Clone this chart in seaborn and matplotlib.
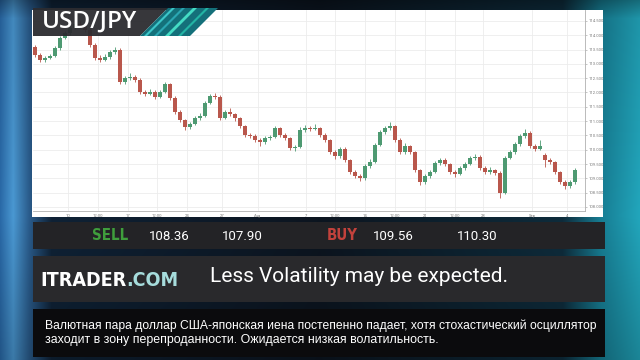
import numpy as np
import matplotlib
matplotlib.use("Agg")
import matplotlib.pyplot as plt
from matplotlib.patches import Rectangle, Polygon
import seaborn as sns

# USD/JPY 4h candles
pair = "USD/JPY"
opens = [113.59, 113.31, 113.14, 113.21, 113.28, 113.56, 113.91, 114.08, 114.26, 114.40,
         114.33, 114.19, 113.66, 113.21, 113.14, 113.24, 113.42, 113.49, 112.37, 112.51,
         112.54, 112.44, 112.02, 111.95, 112.02, 111.84, 112.02, 112.30, 111.81, 111.32,
         111.04, 110.80, 110.90, 111.11, 111.18, 111.63, 111.88, 111.84, 111.11, 111.32,
         111.25, 111.11, 110.83, 110.52, 110.48, 110.34, 110.27, 110.41, 110.45, 110.76,
         110.52, 110.41, 110.06, 110.10, 110.69, 110.76, 110.73, 110.76, 110.52, 110.34,
         109.92, 109.78, 110.03, 109.64, 109.22, 109.08, 109.01, 109.43, 109.57, 110.17,
         110.62, 110.76, 110.83, 110.34, 109.92, 110.13, 109.92, 109.29, 108.87, 109.08,
         109.22, 109.54, 109.64, 109.50, 109.22, 109.15, 109.36, 109.50, 109.71, 109.75,
         109.36, 109.22, 109.29, 109.19, 108.49, 109.71, 109.92, 110.20, 110.48, 110.59,
         110.13, 110.03, 109.82, 109.64, 109.57, 109.22, 108.87, 108.73, 108.87]
closes = [113.31, 113.14, 113.21, 113.28, 113.56, 113.91, 114.08, 114.26, 114.40, 114.33,
          114.19, 113.66, 113.21, 113.14, 113.24, 113.42, 113.49, 112.37, 112.51, 112.54,
          112.44, 112.02, 111.95, 112.02, 111.84, 112.02, 112.30, 111.81, 111.32, 111.04,
          110.80, 110.90, 111.11, 111.18, 111.63, 111.88, 111.84, 111.11, 111.32, 111.25,
          111.11, 110.83, 110.52, 110.48, 110.34, 110.27, 110.41, 110.45, 110.76, 110.52,
          110.41, 110.06, 110.10, 110.69, 110.76, 110.73, 110.76, 110.52, 110.34, 109.92,
          109.78, 110.03, 109.64, 109.22, 109.08, 109.01, 109.43, 109.57, 110.17, 110.62,
          110.76, 110.83, 110.34, 109.92, 110.13, 109.92, 109.29, 108.87, 109.08, 109.22,
          109.54, 109.64, 109.50, 109.22, 109.15, 109.36, 109.50, 109.71, 109.75, 109.36,
          109.22, 109.29, 109.19, 108.49, 109.71, 109.92, 110.20, 110.48, 110.59, 110.13,
          110.03, 110.13, 109.64, 109.57, 109.22, 108.87, 108.73, 108.87, 109.29]
highs = [113.66, 113.38, 113.28, 113.35, 113.62, 113.98, 114.15, 114.32, 114.47, 114.49,
         114.38, 114.24, 113.72, 113.30, 113.33, 113.50, 113.58, 113.54, 112.58, 112.68,
         112.60, 112.50, 112.10, 112.12, 112.08, 112.10, 112.38, 112.34, 111.86, 111.38,
         111.08, 110.98, 111.18, 111.30, 111.70, 111.95, 111.98, 111.90, 111.40, 111.45,
         111.30, 111.16, 110.88, 110.60, 110.55, 110.40, 110.48, 110.50, 110.84, 110.80,
         110.58, 110.46, 110.16, 110.78, 110.85, 110.82, 110.90, 110.80, 110.57, 110.38,
         110.00, 110.10, 110.08, 109.68, 109.28, 109.14, 109.50, 109.66, 110.24, 110.70,
         110.84, 110.98, 110.88, 110.40, 110.22, 110.18, 109.97, 109.34, 109.15, 109.30,
         109.62, 109.72, 109.70, 109.55, 109.28, 109.44, 109.58, 109.79, 109.86, 109.80,
         109.42, 109.38, 109.34, 109.24, 109.78, 110.00, 110.28, 110.56, 110.72, 110.64,
         110.20, 110.34, 109.88, 109.72, 109.62, 109.27, 108.93, 108.95, 109.36]
lows = [113.24, 113.07, 113.08, 113.17, 113.24, 113.50, 113.86, 114.02, 114.20, 114.25,
        114.12, 113.60, 113.15, 113.05, 113.09, 113.18, 113.36, 112.30, 112.31, 112.45,
        112.36, 111.95, 111.86, 111.90, 111.76, 111.79, 111.97, 111.74, 111.25, 110.97,
        110.70, 110.74, 110.85, 111.05, 111.14, 111.58, 111.78, 111.04, 111.06, 111.18,
        111.02, 110.76, 110.45, 110.40, 110.26, 110.12, 110.20, 110.33, 110.40, 110.45,
        110.34, 109.99, 109.96, 110.05, 110.62, 110.66, 110.68, 110.45, 110.27, 109.85,
        109.68, 109.72, 109.57, 109.15, 109.00, 108.90, 108.96, 109.36, 109.52, 110.12,
        110.55, 110.70, 110.27, 109.85, 109.86, 109.85, 109.22, 108.78, 108.80, 109.02,
        109.17, 109.48, 109.43, 109.15, 109.06, 109.10, 109.30, 109.45, 109.64, 109.29,
        109.15, 109.16, 109.10, 108.30, 108.44, 109.66, 109.86, 110.14, 110.42, 110.06,
        109.96, 109.98, 109.40, 109.50, 109.15, 108.80, 108.64, 108.66, 108.82]

# x labels and where they sit on the candle index axis
tick_pos = [6.6, 12.6, 18.6, 24.4, 30.4, 37.4, 44.6, 54.2, 60.0, 66.0, 72.0, 78.0, 84.0, 89.6, 99.4, 106.4]
tick_labels = ["10", "12:00", "17", "12:00", "24", "27", "Aug", "7", "12:00", "14",
               "12:00", "21", "12:00", "28", "Sep", "4"]
price_ticks = [108.0, 108.5, 109.0, 109.5, 110.0, 110.5, 111.0, 111.5, 112.0, 112.5,
               113.0, 113.5, 114.0, 114.5]

sell_levels = ["108.36", "107.90"]
buy_levels = ["109.56", "110.30"]
headline = "Less Volatility may be expected."
comment = ["Валютная пара доллар США-японская иена постепенно падает, хотя стохастический осциллятор",
           "заходит в зону перепроданности. Ожидается низкая волатильность."]

sns.set_theme(style="whitegrid")
plt.rcParams['font.family'] = ['Roboto', 'DejaVu Sans']

fig = plt.figure(figsize=(6.4, 3.6), dpi=100)

# background gradient
bg = fig.add_axes([0, 0, 1, 1], zorder=0)
W, H = 640, 360
stops = [0.0, 0.02, 0.045, 0.08, 0.5, 0.88, 0.94, 1.0]
cols = ["#2a6aa8", "#4a98d2", "#2a5c8c", "#0f2236", "#0c1520", "#0e2c3c", "#177e94", "#22a6bc"]
rgb = np.array([matplotlib.colors.to_rgb(c) for c in cols])
xs = np.linspace(0, 1, W)
row = np.stack([np.interp(xs, stops, rgb[:, k]) for k in range(3)], axis=-1)
shade = np.interp(np.linspace(0, 1, H), [0, 0.05, 0.6, 1], [0.65, 0.9, 1.0, 0.8])
img = row[None, :, :] * shade[:, None, None]
bg.imshow(np.clip(img, 0, 1), extent=[0, W, H, 0], aspect="auto")
bg.set_xlim(0, W)
bg.set_ylim(H, 0)
bg.axis("off")
bg.add_patch(Rectangle((32, 10), 571, 207, color="white", lw=0))

# candlestick chart
ax = fig.add_axes([33 / 640, 1 - 211 / 360, 552 / 640, 201 / 360], zorder=1)
o = np.array(opens)
c = np.array(closes)
idx = np.arange(len(c))
col = np.where(c >= o, "#4e9a72", "#b9574c")
ax.vlines(idx, lows, highs, color=col, lw=0.6, zorder=2)
ax.bar(idx, np.maximum(np.abs(c - o), 0.02), bottom=np.minimum(o, c), width=0.62,
       color=col, lw=0, zorder=3)
ax.set_xlim(-0.4, 110)
ax.set_ylim(107.86, 114.88)
ax.set_facecolor("white")
ax.grid(True, color="#ececec", lw=0.6)
ax.set_xticks(tick_pos)
ax.set_xticklabels(tick_labels, fontsize=3, color="#7a7a7a")
ax.yaxis.tick_right()
ax.set_yticks(price_ticks)
ax.set_yticklabels([f"{v:.3f}" for v in price_ticks], fontsize=3, color="#7a7a7a")
ax.tick_params(length=1.5, width=0.4, pad=1, color="#999999")
for s in ["top", "left"]:
    ax.spines[s].set_visible(False)
for s in ["bottom", "right"]:
    ax.spines[s].set_color("#b0b0b0")
    ax.spines[s].set_linewidth(0.6)

# overlay graphics
ov = fig.add_axes([0, 0, 1, 1], zorder=3)
ov.set_xlim(0, W)
ov.set_ylim(H, 0)
ov.axis("off")
ov.patch.set_alpha(0)


def fit_text(x, y, s, width, size, **kw):
    # shrink a text until it is no wider than the given pixel width
    t = ov.text(x, y, s, fontsize=size, **kw)
    fig.canvas.draw()
    w = t.get_window_extent().width
    if w > width:
        t.set_fontsize(size * width / w)
    return t


ov.add_patch(Polygon([(33, 8), (168, 8), (140, 36), (33, 36)], color="#2c2c30", lw=0, alpha=0.95))
ov.add_patch(Polygon([(140, 36), (168, 8), (218, 8), (190, 36)], color="#14707a", lw=0))
for x0, w, cc in [(144, 3, "#3cc6c8"), (154, 3, "#2aa6b2"), (165, 4, "#44dcc4"), (178, 3, "#22b4a4")]:
    ov.add_patch(Polygon([(x0, 36), (x0 + 28, 8), (x0 + 28 + w, 8), (x0 + w, 36)], color=cc, lw=0))
fit_text(42, 22, pair, 95, 18, color="white", va="center", ha="left",
         family=["Open Sans", "DejaVu Sans"], weight="semibold")

narrow = dict(family="DejaVu Sans", stretch="condensed", weight="bold", va="center")

# SELL / BUY strip
ov.add_patch(Rectangle((33, 222), 572, 27, color="#232326", lw=0))
fit_text(92, 236, "SELL", 36, 12, color="#3f9e3c", **narrow)
fit_text(327, 236, "BUY", 31, 12, color="#c2423c", **narrow)
for x0, t in zip([149, 222], sell_levels):
    ov.text(x0, 236, t, fontsize=9.5, color="white", va="center")
for x0, t in zip([373, 457], buy_levels):
    ov.text(x0, 236, t, fontsize=9.5, color="white", va="center")

# brand strip
ov.add_patch(Rectangle((33, 256), 572, 46, color="#29292c", lw=0))
t1 = fit_text(40, 280, "ITRADER", 86, 20, color="white", **narrow)
bb = t1.get_window_extent().transformed(ov.transData.inverted())
ov.text(bb.x1, 280, ".COM", fontsize=t1.get_fontsize(), color="#a6dcdc", **narrow)
ov.text(210, 277, headline, fontsize=15, color="white", va="center")

# comment strip
ov.add_patch(Rectangle((33, 309), 572, 48, color="#0b0b0d", lw=0))
rus = ["Liberation Sans", "DejaVu Sans"]
fit_text(45, 326, comment[0], 550, 8.9, color="white", va="center", family=rus)
fit_text(45, 340, comment[1], 550, 8.9, color="white", va="center", family=rus)

fig.savefig("out.png", dpi=100)
